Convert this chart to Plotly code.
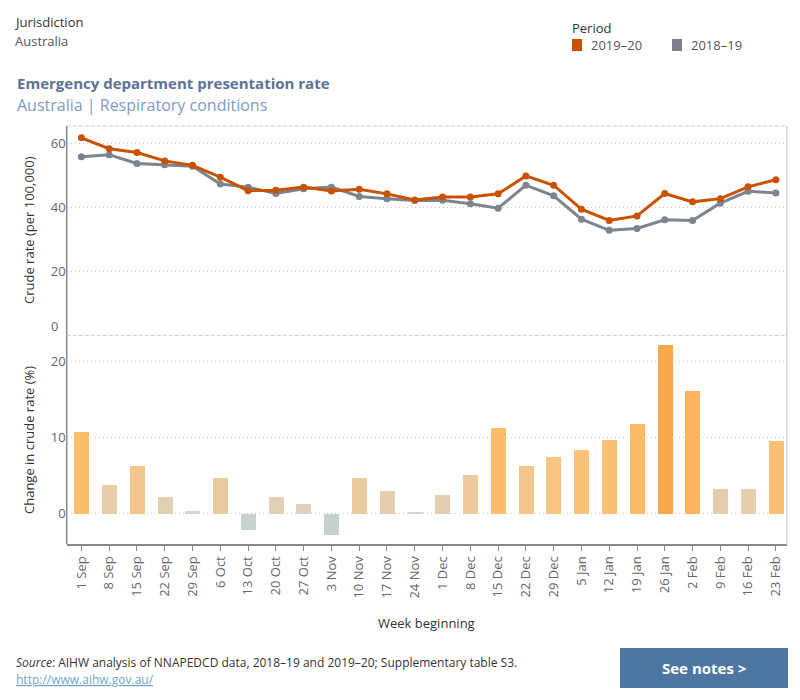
import plotly.graph_objects as go

weeks = ["1 Sep", "8 Sep", "15 Sep", "22 Sep", "29 Sep", "6 Oct", "13 Oct", "20 Oct",
         "27 Oct", "3 Nov", "10 Nov", "17 Nov", "24 Nov", "1 Dec", "8 Dec", "15 Dec",
         "22 Dec", "29 Dec", "5 Jan", "12 Jan", "19 Jan", "26 Jan", "2 Feb", "9 Feb",
         "16 Feb", "23 Feb"]
rate_2019_20 = [61.7, 58.3, 57.1, 54.5, 53.1, 49.4, 45.2, 45.3, 46.3, 45.1, 45.6, 44.2,
                42.3, 43.2, 43.2, 44.2, 49.8, 46.9, 39.4, 35.9, 37.3, 44.3, 41.7, 42.7,
                46.4, 48.6]
rate_2018_19 = [55.8, 56.4, 53.7, 53.3, 52.8, 47.3, 46.3, 44.3, 45.8, 46.3, 43.4, 42.7,
                42.1, 42.2, 41.1, 39.7, 46.9, 43.6, 36.3, 32.8, 33.4, 36.1, 35.9, 41.3,
                45.0, 44.5]
change_pct = [10.8, 3.7, 6.2, 2.2, 0.4, 4.7, -2.2, 2.2, 1.3, -2.8, 4.7, 3.0,
              0.26, 2.4, 5.1, 11.2, 6.2, 7.4, 8.4, 9.7, 11.8, 22.2, 16.1, 3.3,
              3.2, 9.6]

W, H = 800, 700
def px(x): return x / W
def py(y): return 1 - y / H

FONT = "Open Sans"
ORANGE = "#c85200"
GRAY = "#7b848f"
TICK = "#666666"
GRIDDASH = "1px,3px"

fig = go.Figure()

fig.add_trace(go.Scatter(x=weeks, y=rate_2018_19, mode="lines+markers", name="2018–19",
                         line=dict(color=GRAY, width=3), marker=dict(size=7, color=GRAY),
                         xaxis="x", yaxis="y", showlegend=False))
fig.add_trace(go.Scatter(x=weeks, y=rate_2019_20, mode="lines+markers", name="2019–20",
                         line=dict(color=ORANGE, width=3), marker=dict(size=7, color=ORANGE),
                         xaxis="x", yaxis="y", showlegend=False))

cmin, cmax = -3.0, 22.5
def f(v): return (v - cmin) / (cmax - cmin)
colorscale = [
    [0.0, "#c5d1cd"],
    [f(-0.01), "#cad4d0"],
    [f(0.0), "#dcd5c6"],
    [f(3.0), "#e4ceae"],
    [f(5.0), "#ecc99c"],
    [f(8.0), "#fbc47a"],
    [f(11.0), "#fdbd6b"],
    [f(16.0), "#fdb35d"],
    [1.0, "#fba74a"],
]
fig.add_trace(go.Bar(x=weeks, y=change_pct, width=0.54,
                     marker=dict(color=change_pct, colorscale=colorscale, cmin=cmin, cmax=cmax,
                                 line=dict(width=0)),
                     xaxis="x2", yaxis="y2", showlegend=False))

xl, xr = px(66.7), px(787)
y_top, y_mid, y_bot = py(126), py(335.3), py(544.3)
xrange = [-0.53, 25.4]

fig.update_layout(
    width=W, height=H,
    margin=dict(l=0, r=0, t=0, b=0),
    paper_bgcolor="white", plot_bgcolor="white",
    font=dict(family=FONT, color=TICK),
    bargap=0,
    xaxis=dict(domain=[xl, xr], anchor="y", range=xrange, showticklabels=False,
               showgrid=False, zeroline=False, showline=False, ticks="",
               type="category", categoryorder="array", categoryarray=weeks),
    yaxis=dict(domain=[y_mid, y_top], anchor="x", range=[0, 65.4],
               tickvals=[20, 40, 60], ticktext=["20", "40", "60"],
               showgrid=True, gridcolor="#c4c4c4", griddash=GRIDDASH, gridwidth=1,
               zeroline=False, showline=False, ticks="",
               tickfont=dict(size=13, color=TICK)),
    xaxis2=dict(domain=[xl, xr], anchor="y2", range=xrange,
                type="category", categoryorder="array", categoryarray=weeks,
                tickangle=-90, tickfont=dict(size=13, color=TICK),
                ticks="outside", ticklen=5, tickcolor="#888888",
                showgrid=False, zeroline=False, showline=True, linecolor="#888888",
                linewidth=1.5),
    yaxis2=dict(domain=[y_bot, y_mid], anchor="x2", range=[-4.0, 23.5],
                tickvals=[0, 10, 20],
                showgrid=True, gridcolor="#c4c4c4", griddash=GRIDDASH, gridwidth=1,
                zeroline=False, showline=False, ticks="",
                tickfont=dict(size=13, color=TICK)),
)

shapes = []
shapes.append(dict(type="line", xref="paper", yref="paper", x0=xl, x1=xl, y0=y_bot, y1=y_top,
                   line=dict(color="#888888", width=1.5)))
shapes.append(dict(type="line", xref="paper", yref="paper", x0=xr, x1=xr, y0=y_bot, y1=y_top,
                   line=dict(color="#d0d0d0", width=1.5)))
for yy in (y_top, y_mid):
    shapes.append(dict(type="line", xref="paper", yref="paper", x0=xl, x1=xr, y0=yy, y1=yy,
                       line=dict(color="#c8c8c8", width=1, dash="4px,2px")))
shapes.append(dict(type="rect", xref="paper", yref="paper", x0=px(572), x1=px(582),
                   y0=py(51), y1=py(39), fillcolor=ORANGE, line=dict(width=0)))
shapes.append(dict(type="rect", xref="paper", yref="paper", x0=px(672), x1=px(682),
                   y0=py(51), y1=py(39), fillcolor="#7b808a", line=dict(width=0)))
shapes.append(dict(type="rect", xref="paper", yref="paper", x0=px(620), x1=px(788),
                   y0=py(688), y1=py(648), fillcolor="#4e76a3", line=dict(width=0)))
fig.update_layout(shapes=shapes)

ann = []
def text(x, y, s, size=13, color="#333333", xanchor="left", yanchor="middle", **kw):
    ann.append(dict(x=px(x), y=py(y), xref="paper", yref="paper", text=s, showarrow=False,
                    xanchor=xanchor, yanchor=yanchor,
                    font=dict(size=size, color=color, family=FONT), **kw))

text(12, 22, "Jurisdiction", size=13, color="#333333")
text(13, 41, "Australia", size=13, color="#555555")
text(570, 28, "Period", size=13, color="#333333")
text(589, 45, "2019–20", size=13, color="#555555")
text(689, 45, "2018–19", size=13, color="#555555")
text(15, 83, "<b>Emergency department presentation rate</b>", size=15, color="#5a7397")
text(15, 105, "Australia | Respiratory conditions", size=16, color="#7f9cc0")
text(60, 326, "0", size=13, color=TICK, xanchor="right")
text(29, 230, "Crude rate (per 100,000)", size=13, color="#333333", xanchor="center",
     textangle=-90)
text(29, 440, "Change in crude rate (%)", size=13, color="#333333", xanchor="center",
     textangle=-90)
text(427, 623, "Week beginning", size=13, color="#333333", xanchor="center")
text(14, 662, "<i>Source</i>: AIHW analysis of NNAPEDCD data, 2018–19 and 2019–20; Supplementary table S3.",
     size=12, color="#333333")
text(14, 679, "<u>http://www.aihw.gov.au/</u>", size=12, color="#6ea6d2")
text(704, 668, "<b>See notes ></b>", size=15, color="white", xanchor="center")
fig.update_layout(annotations=ann)

fig.write_html("out.html")
